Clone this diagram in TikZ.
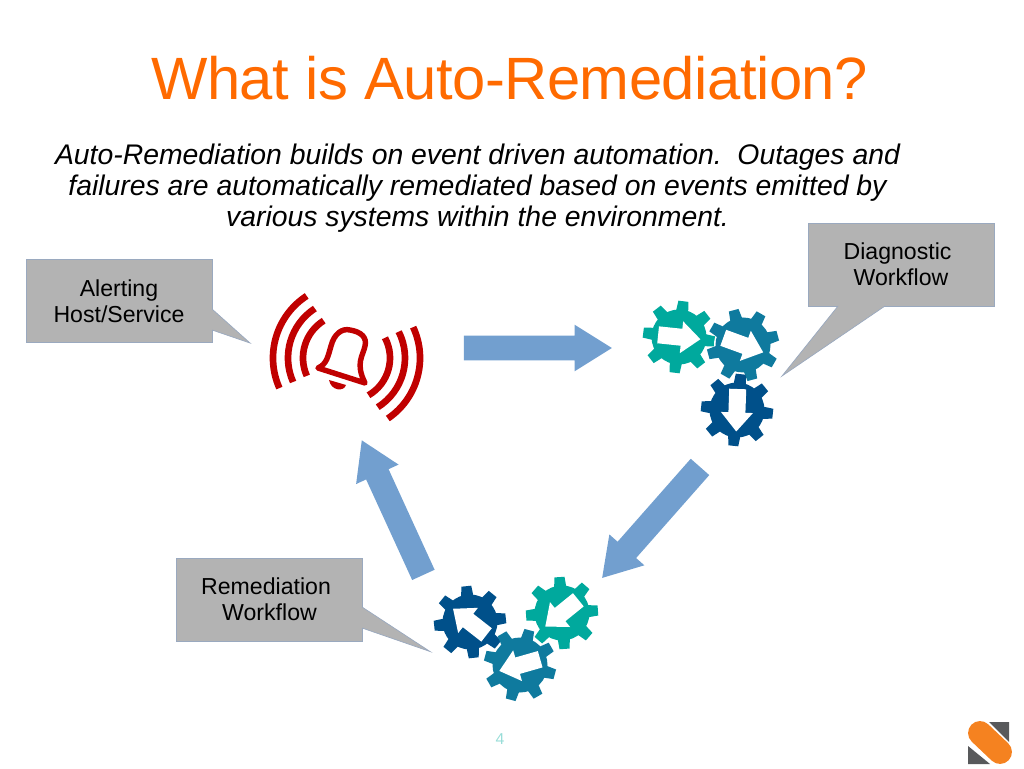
\documentclass[tikz,border=0pt]{standalone}
\usepackage{fontspec}
\setmainfont{Liberation Sans}
\usepackage{tikz}
\usetikzlibrary{shapes.arrows}
\definecolor{titleorange}{HTML}{FF6A00}
\definecolor{boxgray}{HTML}{B3B3B3}
\definecolor{boxline}{HTML}{9AA9BF}
\definecolor{flowblue}{HTML}{729FCF}
\definecolor{bellred}{HTML}{C00000}
\definecolor{gearteal}{HTML}{00A99D}
\definecolor{gearmid}{HTML}{0F7A9E}
\definecolor{geardark}{HTML}{00508A}
\definecolor{logodark}{HTML}{58595B}
\definecolor{logoorange}{HTML}{F58220}
\newcommand{\gearfig}[5]{%
\begin{scope}[shift={(#1,#2)}]
\fill[white] (0,0) circle (29);
\foreach \a in {0,45,...,315} \fill[#4,rotate=#3+\a] (25,-6.2) -- (36,-5) -- (36,5) -- (25,6.2) -- cycle;
\fill[#4] (0,0) circle (27.5);
\fill[white,rotate=#5] (-21,-8.5) -- (2.5,-8.5) -- (2.5,-16) -- (21.5,0) -- (2.5,16) -- (2.5,8.5) -- (-21,8.5) -- cycle;
\end{scope}}

\begin{document}
\begin{tikzpicture}[x=0.02cm,y=0.02cm,
  labelbox/.style={draw=boxline,line width=.4pt,fill=boxgray,minimum width=3.72cm,minimum height=1.66cm,inner sep=0pt,align=center,font=\fontsize{13.15}{14.8}\selectfont},
  labeltail/.style={draw=boxline,line width=.4pt,fill=boxgray},
  flowarrow/.style={single arrow,fill=flowblue,draw=none,minimum height=2.96cm,inner xsep=0pt,inner ysep=.24cm,single arrow head extend=.22cm,single arrow head indent=0pt,single arrow tip angle=64},
  bellarc/.style={bellred,line width=3.8pt}]
\useasboundingbox (0,0) rectangle (1024,768);

\node[text=titleorange,font=\fontsize{34}{40}\selectfont\addfontfeatures{LetterSpace=-0.8}] (title) at (509.5,690) {What is Auto-Remediation?};
\node[align=center,font=\fontsize{16.14}{17.65}\selectfont\itshape] (intro) at (477.5,580) {Auto-Remediation builds on event driven automation.\ \ Outages and\\failures are automatically remediated based on events emitted by\\various systems within the environment.};

% callouts
\draw (119,467) node[labelbox] (alert) {Alerting\\Host/Service};
\draw[labeltail] (212,459) -- (250,425) -- (212,438);
\draw (901,503.5) node[labelbox] (diag) {Diagnostic\hspace*{.3em}\\Workflow};
\draw[labeltail] (838,462) -- (782,392) -- (885,462);
\draw (269.5,168.5) node[labelbox] (remed) {Remediation\hspace*{.3em}\\Workflow};
\draw[labeltail] (362,161) -- (430,116.5) -- (362,140);

% bell
\draw[bellarc] (347,410) ++(123:74) arc (123:204:74);
\draw[bellarc] (347,410) ++(123:59) arc (123:204:59);
\draw[bellarc] (347,410) ++(122:44) arc (122:204:44);
\draw[bellarc] (347,410) ++(25:73) arc (25:-56:73);
\draw[bellarc] (347,410) ++(27:58) arc (27:-58:58);
\draw[bellarc] (347,410) ++(28:43) arc (28:-60:43);
\draw[bellred,line width=3.1pt,line join=round] (318,400) .. controls (327,404) and (328,412) .. (331,422) .. controls (334,434) and (342,440) .. (350,438) .. controls (362,436) and (367,430) .. (365,422) .. controls (363,412) and (355,405) .. (365,385) -- cycle;
\fill[bellred] (329,388) .. controls (331,377) and (344,376) .. (346,383) -- cycle;

% flow
\node[flowarrow] (toDiag) at (528,420) {};
\node[flowarrow,rotate=228.6] (toRemed) at (657.6,253) {};
\node[flowarrow,rotate=114.6] (toAlert) at (396.7,251.4) {};

% gears
\gearfig{679}{431}{-7}{gearteal}{-6}
\gearfig{743}{423}{15}{gearmid}{-20}
\gearfig{737}{358}{-6}{geardark}{-92}
\gearfig{470}{146}{6}{geardark}{142}
\gearfig{562}{155}{4}{gearteal}{219}
\gearfig{520}{103}{30}{gearmid}{196}

\node[text=gearteal!40,font=\fontsize{9}{10}\selectfont] (pagenum) at (500,29) {4};

% logo
\fill[logodark] (989,46) -- (1009,46) -- (1009,26) -- cycle;
\fill[logodark] (968,22) -- (968,4) -- (990,4) -- cycle;
\draw[logoorange,line width=13.6pt,line cap=round] (980,35) -- (1000,16);
\end{tikzpicture}
\end{document}
